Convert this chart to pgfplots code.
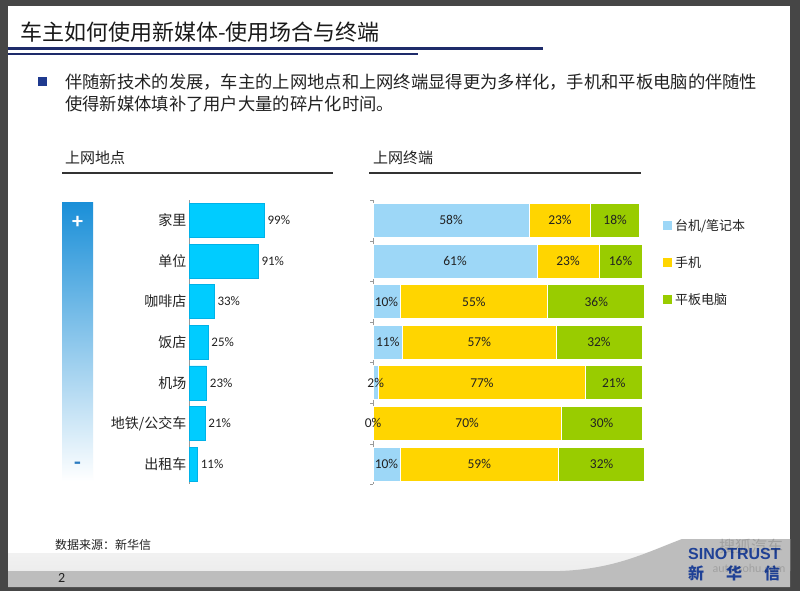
\documentclass[border=0pt]{standalone}
\usepackage{pgfplots}
\pgfplotsset{compat=1.18}
\usepackage{pgfplotstable}
\usepackage{fontspec}
\setmainfont{Carlito}
\newfontfamily\cjk{Noto Sans CJK SC}
\newfontfamily\logofont{Liberation Sans}
\newcommand\fs[1]{\fontsize{#1}{#1}\selectfont}

\definecolor{framegray}{HTML}{464646}
\definecolor{navy}{HTML}{1E2B6A}
\definecolor{bulletnavy}{HTML}{1F3A8F}
\definecolor{titletext}{HTML}{1A1A1A}
\definecolor{bodytext}{HTML}{222222}
\definecolor{gradtop}{HTML}{1A8FD8}
\definecolor{gradmid}{HTML}{B2D3EE}
\definecolor{minusblue}{HTML}{2B7BC0}
\definecolor{cyanbar}{HTML}{00CCFF}
\definecolor{cyanedge}{HTML}{00B2E8}
\definecolor{pcblue}{HTML}{9DD7F7}
\definecolor{phoneyel}{HTML}{FFD500}
\definecolor{tabgreen}{HTML}{99CC00}
\definecolor{footlight}{HTML}{EDEDED}
\definecolor{footgray}{HTML}{BDBDBD}
\definecolor{logoblue}{HTML}{1F4196}

\pgfplotsset{sqlegend/.style={legend image code/.code={\fill[##1] (0pt,-5pt) rectangle (10pt,5pt);}}}

% share of owners going online at each place (%)
\pgfplotstableread{
row val
0 99
1 91
2 33
3 25
4 23
5 21
6 11
}\tplace

% device split at each place (%): desktop/laptop, phone, tablet
\pgfplotstableread{
row pc phone tab
0 58 23 18
1 61 23 16
2 10 55 36
3 11 57 32
4 2 77 21
5 0 70 30
6 10 59 32
}\tdev

\begin{document}
\begin{tikzpicture}[x=1pt,y=-1pt]
% slide frame
\fill[framegray] (0,0) rectangle (800,591);
\fill[white] (8,6) rectangle (790,587);

% footer swoosh
\shade[top color=white!96!black, bottom color=footlight]
  (8,553) -- (640,553) .. controls (662,553) and (668,545) .. (682,539)
  -- (790,539) -- (790,571) -- (8,571) -- cycle;
\fill[footgray] (8,571) -- (560,571) .. controls (615,569) and (645,553) .. (682,539)
  -- (790,539) -- (790,587) -- (8,587) -- cycle;

% title and rules
\node[anchor=west, inner sep=0pt, font=\cjk\fs{22}, text=titletext] at (20,32) {车主如何使用新媒体-使用场合与终端};
\fill[navy] (8,47) rectangle (543,50.5);
\fill[navy] (8,53) rectangle (418,55.5);

% bullet text
\fill[bulletnavy] (38,77) rectangle (47,86);
\node[anchor=west, inner sep=0pt, font=\cjk\fs{17.3}, text=bodytext] at (65,82) {伴随新技术的发展，车主的上网地点和上网终端显得更为多样化，手机和平板电脑的伴随性};
\node[anchor=west, inner sep=0pt, font=\cjk\fs{17.3}, text=bodytext] at (65,104) {使得新媒体填补了用户大量的碎片化时间。};

% panel headings
\node[anchor=west, inner sep=0pt, font=\cjk\fs{15}, text=bodytext] at (65,158) {上网地点};
\node[anchor=west, inner sep=0pt, font=\cjk\fs{15}, text=bodytext] at (373,158) {上网终端};
\draw[line width=1.3pt, black!80] (62,173) -- (333,173);
\draw[line width=1.3pt, black!80] (369,173) -- (641,173);

% intensity scale
\shade[top color=gradtop, middle color=gradmid, bottom color=white] (62,202) rectangle (93,481);
\node[text=white, font=\bfseries\fs{22}, inner sep=0pt] at (77.5,222) {+};
\node[text=minusblue, font=\bfseries\fs{22}, inner sep=0pt] at (77.5,466) {-};

% places
\begin{axis}[
  at={(189pt,-484.3pt)}, anchor=south west,
  width=75.8pt, height=284.2pt, scale only axis,
  xbar, bar width=34pt,
  xmin=0, xmax=100, ymin=-0.5, ymax=6.5, y dir=reverse,
  axis x line=none, axis y line=left,
  axis line style={-, draw=black!40, line width=0.8pt},
  ytick={0,...,6},
  yticklabels={家里,单位,咖啡店,饭店,机场,地铁/公交车,出租车},
  yticklabel style={font=\cjk\fs{14}, text=bodytext, inner sep=2.5pt},
  major tick length=0pt,
  point meta=x,
  nodes near coords={\pgfmathprintnumber{\pgfplotspointmeta}\%},
  every node near coord/.append style={font=\fs{13}, text=bodytext},
  /pgf/number format/assume math mode=true,
  clip=false,
]
\addplot[fill=cyanbar, draw=cyanedge, line width=0.4pt] table[x=val, y=row]{\tplace};
\end{axis}

% devices
\begin{axis}[
  at={(373pt,-484.3pt)}, anchor=south west,
  width=269pt, height=284.2pt, scale only axis,
  xbar stacked, bar width=34pt,
  xmin=0, xmax=100, ymin=-0.5, ymax=6.5, y dir=reverse,
  axis x line=none, axis y line=left,
  axis line style={-, draw=black!40, line width=0.8pt},
  ytick={-0.5,0.5,...,6.5}, yticklabel={\mbox{}},
  tick align=outside, major tick length=3pt, ytick style={draw=black!40},
  clip=false,
  legend style={at={(1,1)}, anchor=north west, xshift=20pt, yshift=-17pt,
    draw=none, fill=none, inner sep=0pt, row sep=20.5pt,
    font=\cjk\fs{13}, text=bodytext, cells={anchor=west}},
]
\addplot[sqlegend, fill=pcblue, draw=white, line width=0.8pt] table[x=pc, y=row]{\tdev};
\addlegendentry{台机/笔记本}
\addplot[sqlegend, fill=phoneyel, draw=white, line width=0.8pt] table[x=phone, y=row]{\tdev};
\addlegendentry{手机}
\addplot[sqlegend, fill=tabgreen, draw=white, line width=0.8pt] table[x=tab, y=row]{\tdev};
\addlegendentry{平板电脑}
\end{axis}

% segment labels, centred in each segment
\begin{axis}[
  at={(373pt,-484.3pt)}, anchor=south west,
  width=269pt, height=284.2pt, scale only axis,
  xmin=0, xmax=100, ymin=-0.5, ymax=6.5, y dir=reverse,
  hide axis, clip=false, no marks,
  point meta=explicit,
  nodes near coords={\pgfmathprintnumber{\pgfplotspointmeta}\%},
  nodes near coords align={center},
  every node near coord/.append style={anchor=center, font=\fs{13.5}, text=bodytext},
  /pgf/number format/assume math mode=true,
]
\addplot[draw=none] table[x expr=\thisrow{pc}/2, y=row, meta=pc]{\tdev};
\addplot[draw=none] table[x expr=\thisrow{pc}+\thisrow{phone}/2, y=row, meta=phone]{\tdev};
\addplot[draw=none] table[x expr=\thisrow{pc}+\thisrow{phone}+\thisrow{tab}/2, y=row, meta=tab]{\tdev};
\end{axis}

% source and page number
\node[anchor=west, inner sep=0pt, font=\cjk\fs{12}, text=bodytext] at (55,545) {数据来源：新华信};
\node[anchor=west, inner sep=0pt, font=\fs{14}, text=bodytext] at (58,578) {2};

% logo, with the faint site watermark over it
\node[anchor=west, inner sep=0pt, font=\logofont\bfseries\fs{16}, text=logoblue] at (688,554) {SINOTRUST};
\node[anchor=west, inner sep=0pt, text width=92pt, font=\cjk\bfseries\fs{16}, text=logoblue] at (688,573) {新\hfill 华\hfill 信};
\node[text=black, opacity=0.15, font=\cjk\fs{16}, inner sep=0pt] at (751,546) {搜狐汽车};
\node[text=black, opacity=0.15, font=\fs{12}, inner sep=0pt] at (749,568) {auto.sohu.com};
\end{tikzpicture}
\end{document}
